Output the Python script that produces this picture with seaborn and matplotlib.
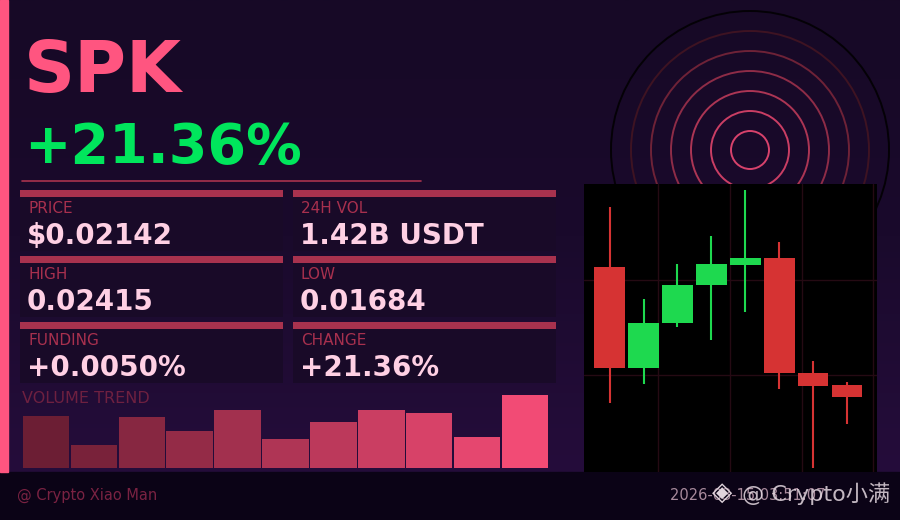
import numpy as np, matplotlib
matplotlib.use("Agg")
import matplotlib.pyplot as plt; import seaborn as sns
import pandas as pd
from matplotlib.patches import Rectangle, Circle
from matplotlib.colors import LinearSegmentedColormap

sns.set_theme(style="white")
plt.rcParams['font.family'] = ['DejaVu Sans', 'Noto Sans CJK SC']

SYMBOL = "SPK"
CHANGE_PCT = "+21.36%"
CARD_LABELS = ["PRICE", "24H VOL", "HIGH", "LOW", "FUNDING", "CHANGE"]
CARD_VALUES = ["$0.02142", "1.42B USDT", "0.02415", "0.01684", "+0.0050%", "+21.36%"]
VOL_TITLE = "VOLUME TREND"
VOLUME = [52, 23, 51, 37, 58, 29, 46, 58, 55, 31, 73]
# candles (estimated)
OPEN  = [0.02284, 0.02019, 0.02137, 0.02237, 0.02290, 0.02308, 0.02005, 0.01974]
HIGH  = [0.02442, 0.02200, 0.02292, 0.02366, 0.02487, 0.02350, 0.02037, 0.01982]
LOW   = [0.01926, 0.01976, 0.02126, 0.02092, 0.02167, 0.01964, 0.01756, 0.01872]
CLOSE = [0.02019, 0.02137, 0.02237, 0.02292, 0.02308, 0.02006, 0.01972, 0.01943]
FOOTER_LEFT = "@ Crypto Xiao Man"
FOOTER_DATE = "2026-03-15 03:51:07"
WATERMARK = "@ Crypto小满"

PINK = "#ff5580"; GREEN = "#00e65c"; BAR = "#a8324e"; VALC = "#ffd0e4"
UP = "#1ed94f"; DOWN = "#d63333"

fig = plt.figure(figsize=(9, 5.2), dpi=100)
fig.patch.set_facecolor("#170a28")

# background layer in pixel coords
bg = fig.add_axes([0, 0, 1, 1])
grad = np.linspace(0, 1, 256).reshape(-1, 1)
cmap = LinearSegmentedColormap.from_list("bg", ["#170926", "#1a0a2c", "#250d3b"])
bg.imshow(grad, extent=[0, 900, 472, 0], aspect="auto", cmap=cmap, zorder=0)
bg.set_xlim(0, 900); bg.set_ylim(520, 0); bg.axis("off")
bg.add_patch(Rectangle((0, 472), 900, 48, color="#0b0316", zorder=1))
bg.add_patch(Rectangle((0, 0), 8, 472, color=PINK, zorder=1))

# rings
ring_r = [19, 39, 59, 79, 99, 119, 139]
ring_c = ["#d8426c", "#ca3e64", "#ac3554", "#8e2c47", "#6e2237", "#3e1322", "#040106"]
for r, c in zip(ring_r, ring_c):
    bg.add_patch(Circle((750, 150), r, fill=False, ec=c, lw=1.4, zorder=2))

bg.text(24, 92, SYMBOL, fontsize=51, fontweight="bold", color=PINK, va="baseline", zorder=3)
bg.text(24, 163, CHANGE_PCT, fontsize=40, fontweight="bold", color=GREEN, va="baseline", zorder=3)
bg.plot([22, 421], [180.5, 180.5], color=BAR, lw=1.2, zorder=3)

# stat cards
for i, (lab, val) in enumerate(zip(CARD_LABELS, CARD_VALUES)):
    x0 = [20, 293][i % 2]; yb = 190 + 66 * (i // 2)
    bg.add_patch(Rectangle((x0, yb), 263, 6.7, color=BAR, lw=0, zorder=2))
    bg.add_patch(Rectangle((x0, yb + 6.7), 263, 54, color="#190a28", lw=0, zorder=2))
    bg.text(x0 + 8, yb + 23, lab, fontsize=11, color="#a8304e", va="baseline", zorder=3)
    bg.text(x0 + 7, yb + 53.5, val, fontsize=20, fontweight="bold", color=VALC, va="baseline", zorder=3)

bg.text(22, 403, VOL_TITLE, fontsize=11.5, color="#6e2040", va="baseline", zorder=3)

# footer (watermark sits over the date, as in the source)
bg.text(17, 495, FOOTER_LEFT, fontsize=10.5, color="#7a2242", va="center", zorder=3)
bg.text(670, 495, FOOTER_DATE, fontsize=10.5, color="#a88a9c", va="center", zorder=3)
bg.text(722, 493, "◈", fontsize=19, color="#e0d4dc", ha="center", va="center", zorder=4)
bg.text(742, 494, WATERMARK, fontsize=16, color="#e4d8e0", alpha=0.85, va="center", zorder=4)

# volume trend bars
vax = fig.add_axes([22 / 900, 52 / 520, 527 / 900, 73 / 520])
vdf = pd.DataFrame({"i": range(len(VOLUME)), "v": VOLUME})
vcols = sns.blend_palette(["#6c1e34", "#f24b75"], len(VOLUME))
sns.barplot(data=vdf, x="i", y="v", hue="i", palette=vcols, width=0.97,
            legend=False, ax=vax, saturation=1, edgecolor="none", linewidth=0)
vax.set_xlim(-0.5, len(VOLUME) - 0.5); vax.set_ylim(0, max(VOLUME))
vax.axis("off")

# candlestick panel
cax = fig.add_axes([584 / 900, 48 / 520, 293 / 900, 288 / 520])
cax.set_facecolor("black")
idx = np.arange(len(OPEN))
for i in idx:
    o, h, l, c = OPEN[i], HIGH[i], LOW[i], CLOSE[i]
    col = UP if c >= o else DOWN
    cax.vlines(i, l, h, color=col, lw=1.5, zorder=3)
    cax.bar(i, abs(c - o), bottom=min(o, c), width=0.9, color=col,
            edgecolor="none", linewidth=0, zorder=4)
cax.set_xlim(-0.755, 7.88); cax.set_ylim(0.01745, 0.02503)
cax.set_xticks([1.42, 3.54, 5.66, 7.77]); cax.set_yticks([0.0200, 0.0225])
cax.grid(True, color="#250a13", lw=1)
cax.set_axisbelow(True)
cax.tick_params(length=0, labelbottom=False, labelleft=False)
for s in cax.spines.values():
    s.set_visible(False)

fig.savefig("out.png", dpi=100, facecolor=fig.get_facecolor())
